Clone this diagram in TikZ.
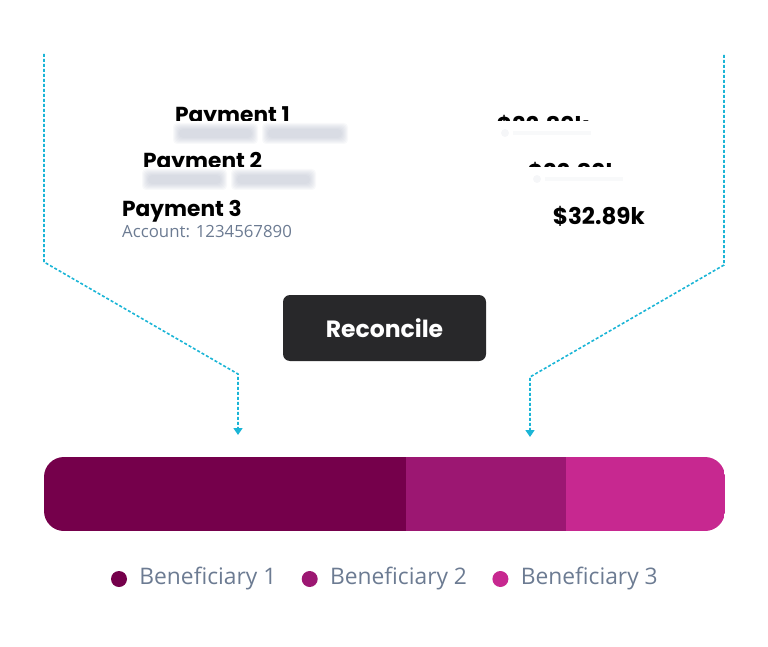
\documentclass[tikz,border=0pt]{standalone}
\usepackage{fontspec}
\setmainfont{Open Sans}
\newfontfamily\titlefont{Poppins}
\usetikzlibrary{arrows.meta, positioning}
\definecolor{benone}{RGB}{117, 0, 75}
\definecolor{bentwo}{RGB}{156, 23, 114}
\definecolor{benthree}{RGB}{199, 40, 144}
\definecolor{guide}{RGB}{27, 181, 214}
\definecolor{btnbg}{RGB}{40, 40, 42}
\definecolor{slate}{RGB}{108, 123, 146}
\definecolor{blurgray}{RGB}{160, 168, 188}

\begin{document}
\begin{tikzpicture}[x=1pt, y=-1pt,
			title/.style={font=\titlefont\fontsize{21.7}{22}\selectfont\bfseries, anchor=base west, inner sep=0pt},
			amount/.style={font=\titlefont\fontsize{23}{23}\selectfont\bfseries, anchor=base east, inner sep=0pt},
			account/.style={font=\fontsize{16.8}{16.8}\selectfont, text=slate, anchor=base west, inner sep=0pt},
			guideline/.style={draw=guide, line width=1.6pt, dash pattern=on 3pt off 2pt,
				-{Triangle[width=9pt, length=7pt, fill=guide]}},
			btn/.style={rectangle, fill=btnbg, rounded corners=7pt, minimum width=203pt, minimum height=66pt,
				text=white, font=\titlefont\fontsize{23.5}{23.5}\selectfont\bfseries},
			dot/.style={circle, inner sep=0pt, minimum size=16pt},
			legend/.style={font=\fontsize{22.8}{22.8}\selectfont, text=slate, inner sep=0pt}]
			
			\useasboundingbox (0,0) rectangle (768,647);
			
			% stacked payment cards (the ones behind are cut and blurred)
			\begin{scope}
				\clip (0,0) rectangle (768,121);
				\node[title] (payone) at (175,123) {Payment 1};
				\node[amount] (amtone) at (589,134) {\$32.89k};
			\end{scope}
			\begin{scope}
				\clip (0,121) rectangle (768,167);
				\node[title] (paytwo) at (143,169) {Payment 2};
				\node[amount] (amttwo) at (620,181) {\$32.89k};
			\end{scope}
			\foreach \x/\w/\y in {173/85/123, 262/86/123, 142/85/169, 231/85/169} {
				\foreach \i in {0,...,6}
					\fill[blurgray, opacity=0.07, rounded corners=4pt]
						(\x+\i,\y+\i) rectangle (\x+\w-\i,\y+21-\i);
			}
			\foreach \x/\y in {501/133, 533/179} {
				\fill[blurgray, opacity=0.1] (\x+4,\y) circle (4pt);
				\draw[blurgray, opacity=0.07, line width=4pt] (\x+12,\y) -- (\x+90,\y);
			}
			\node[title] (paythree) at (122,217) {Payment 3};
			\node[account] (accthree) at (122,237) {Account: 1234567890};
			\node[amount] (amtthree) at (645,224) {\$32.89k};
			
			% button
			\node[btn] (reconcile) at (384.5,328) {Reconcile};
			
			% guides
			\coordinate (lstart) at (44,54);
			\coordinate (lbend) at (44,262);
			\coordinate (lturn) at (238,374);
			\coordinate (lend) at (238,435);
			\coordinate (rstart) at (724,55);
			\coordinate (rbend) at (724,265);
			\coordinate (rturn) at (530,377);
			\coordinate (rend) at (530,437);
			\draw[guideline] (lstart) -- (lbend) -- (lturn) -- (lend);
			\draw[guideline] (rstart) -- (rbend) -- (rturn) -- (rend);
			
			% stacked bar
			\begin{scope}
				\clip[rounded corners=20pt] (44,457) rectangle (725,531);
				\fill[benone] (44,457) rectangle (406,531);
				\fill[bentwo] (406,457) rectangle (566,531);
				\fill[benthree] (566,457) rectangle (725,531);
			\end{scope}
			
			% legend
			\node[dot, fill=benone] (dotone) at (119,579) {};
			\node[legend, right=12pt of dotone] (labone) {Beneficiary 1};
			\node[dot, fill=bentwo, right=25pt of labone] (dottwo) {};
			\node[legend, right=12pt of dottwo] (labtwo) {Beneficiary 2};
			\node[dot, fill=benthree, right=25pt of labtwo] (dotthree) {};
			\node[legend, right=12pt of dotthree] (labthree) {Beneficiary 3};
		\end{tikzpicture}
\end{document}
